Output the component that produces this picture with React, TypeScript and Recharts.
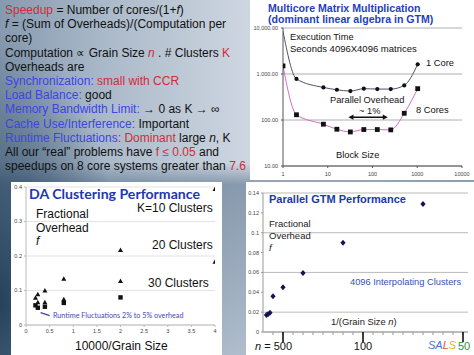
import React from 'react';
import {
  LineChart, Line, XAxis, YAxis, CartesianGrid, ReferenceLine,
  ScatterChart, Scatter,
} from 'recharts';

// ---------- Multicore Matrix Multiplication (top right) ----------
const blockSizes = [1, 2, 8, 16, 32, 64, 128, 256, 512, 1024];
const oneCoreSeconds = [8500, 780, 510, 455, 425, 480, 470, 470, 565, 1620];
const eightCoreSeconds = [1500, 130, 81, 63, 55, 62, 62, 61, 140, 480];
const blockSizeTicks = [1, 10, 100, 1000, 10000];
const secondsTicks = [10, 100, 1000, 10000];
const secondsTickLabels = ['10.00', '100.00', '1,000.00', '10,000.00'];
const overheadArrowBlocks = [29, 220];
const overheadArrowSeconds = 115;

// ---------- DA Clustering Performance (bottom left) ----------
const daK10Grain = [0.2, 0.25, 0.4, 0.8, 2, 4];
const daK10Overhead = [0.079, 0.089, 0.1, 0.134, 0.217, 0.394];
const daK20Grain = [0.25, 0.4, 0.8, 2, 4];
const daK20Overhead = [0.066, 0.066, 0.074, 0.127, 0.183];
const daK30Grain = [0.2, 0.25, 0.4, 0.8, 2];
const daK30Overhead = [0.057, 0.05, 0.053, 0.064, 0.08];
const daXTicks = [0, 0.5, 1, 1.5, 2, 2.5, 3, 3.5, 4];
const daYTicks = [0, 0.1, 0.2, 0.3, 0.4];
const daPointerGrain = [0.31, 0.5];
const daPointerOverhead = [0.036, 0.027];

// ---------- Parallel GTM Performance (bottom right) ----------
const gtmInverseGrain = [0.00035, 0.0005, 0.0007, 0.001, 0.002, 0.004, 0.008, 0.016];
const gtmOverhead = [0.017, 0.018, 0.0195, 0.036, 0.045, 0.0595, 0.09, 0.129];
const gtmYTicks = [0, 0.02, 0.04, 0.06, 0.08, 0.1, 0.12, 0.14];
const gtmMinorTicks = [0.001, 0.002, 0.003, 0.004, 0.005, 0.006, 0.007, 0.008, 0.009, 0.01,
  0.011, 0.012, 0.013, 0.014, 0.015, 0.016, 0.017, 0.018, 0.019, 0.02];
const gtmMajorTicks = [0.002, 0.01, 0.02];
const gtmMajorLabels = ['n = 500', '100', '50'];

const SANS = '"Liberation Sans", Arial, sans-serif';

const matrixData = blockSizes.map((b, i) => ({ block: b, one: oneCoreSeconds[i], eight: eightCoreSeconds[i] }));
const k10 = daK10Grain.map((x, i) => ({ x, y: daK10Overhead[i] }));
const k20 = daK20Grain.map((x, i) => ({ x, y: daK20Overhead[i] }));
const k30 = daK30Grain.map((x, i) => ({ x, y: daK30Overhead[i] }));
const gtm = gtmInverseGrain.map((x, i) => ({ x, y: gtmOverhead[i] }));

type TP = {
  x: number; y: number; size: number; color?: string; bold?: boolean; italic?: boolean;
  family?: string; children: React.ReactNode;
};
const T = ({ x, y, size, color = '#111', bold, italic, family = SANS, children }: TP) => (
  <div style={{
    position: 'absolute', left: x, top: y - size * 0.5, fontSize: size, lineHeight: 1,
    color, fontWeight: bold ? 700 : 400, fontStyle: italic ? 'italic' : 'normal',
    fontFamily: family, whiteSpace: 'nowrap',
  }}>{children}</div>
);

const RED = '#d42a3a';
const BLUE = '#3d45e0';

const tickStyle = { fontSize: 5.5, fill: '#444', fontFamily: SANS };

const OneCoreDot = (p: any) => {
  if (p.index === 0) return <g key={p.key} />;
  return <circle key={p.key} cx={p.cx} cy={p.cy} r={2.1} fill="#111" />;
};
const SquareDot = (p: any) => (
  <rect key={p.key} x={p.cx - 2.4} y={p.cy - 2.4} width={4.8} height={4.8} fill="#111" />
);
const Triangle = (p: any) => (
  <polygon points={`${p.cx},${p.cy - 2.6} ${p.cx - 2.5},${p.cy + 1.9} ${p.cx + 2.5},${p.cy + 1.9}`} fill="#111" />
);
const SquareMark = (p: any) => (
  <rect x={p.cx - 2.2} y={p.cy - 2.2} width={4.4} height={4.4} fill="#111" />
);
const Diamond = (p: any) => (
  <polygon points={`${p.cx},${p.cy - 3} ${p.cx + 2.6},${p.cy} ${p.cx},${p.cy + 3} ${p.cx - 2.6},${p.cy}`} fill="#14144e" />
);

const ArrowShape = (p: any) => {
  const { x1, y1, x2, y2 } = p;
  return (
    <g>
      <line x1={x1 + 3} y1={y1} x2={x2 - 3} y2={y2} stroke="#111" strokeWidth={1.6} />
      <polygon points={`${x1},${y1} ${x1 + 5},${y1 - 2.6} ${x1 + 5},${y1 + 2.6}`} fill="#111" />
      <polygon points={`${x2},${y2} ${x2 - 5},${y2 - 2.6} ${x2 - 5},${y2 + 2.6}`} fill="#111" />
    </g>
  );
};

const GtmTick = (p: any) => {
  const { x, y, payload } = p;
  const idx = gtmMajorTicks.findIndex((t) => Math.abs(t - payload.value) < 1e-9);
  if (idx < 0) return <g />;
  const label = gtmMajorLabels[idx];
  const parts = label.split(' = ');
  return (
    <g>
      <line x1={x} x2={x} y1={y - 3} y2={y + 7} stroke="#111" strokeWidth={1.6} />
      {parts.length === 2 ? (
        <text x={x + 9} y={y + 15} textAnchor="end" fontSize={11} fontFamily={SANS} fill="#111">
          <tspan fontStyle="italic">{parts[0]}</tspan>{' = ' + parts[1]}
        </text>
      ) : (
        <text x={idx === 2 ? x + 1 : x} y={y + 15} textAnchor="middle" fontSize={11} fontFamily={SANS}
          fill={idx === 2 ? '#2f8f3a' : '#111'}>{label}</text>
      )}
    </g>
  );
};

const lines: React.ReactNode[] = [
  <><span style={{ color: RED }}>Speedup</span> = Number of cores/(1+<i>f</i>)</>,
  <><i>f</i> = (Sum of Overheads)/(Computation per</>,
  <>core)</>,
  <>Computation ∝ Grain Size <i style={{ color: RED }}>n</i> . # Clusters <span style={{ color: RED }}>K</span></>,
  <>Overheads are</>,
  <><span style={{ color: BLUE }}>Synchronization:</span> <span style={{ color: RED }}>small with CCR</span></>,
  <><span style={{ color: BLUE }}>Load Balance:</span> good</>,
  <><span style={{ color: BLUE }}>Memory Bandwidth Limit:</span> → 0 as K → ∞</>,
  <><span style={{ color: BLUE }}>Cache Use/Interference:</span> Important</>,
  <><span style={{ color: BLUE }}>Runtime Fluctuations:</span> <span style={{ color: RED }}>Dominant</span> large <i>n</i>, K</>,
  <>All our “real” problems have <span style={{ color: RED }}>f ≤ 0.05</span> and</>,
  <>speedups on 8 core systems greater than <span style={{ color: RED }}>7.6</span></>,
];

export default function App() {
  return (
    <div style={{
      position: 'absolute', left: 0, top: 0, width: 474, height: 355, overflow: 'hidden',
      fontFamily: SANS,
      background: [
        'radial-gradient(ellipse 26% 75% at 0% 85%, rgba(28,58,84,0.9), rgba(28,58,84,0) 100%)',
        'linear-gradient(to bottom, rgba(80,105,132,0) 46%, rgba(80,105,132,0.55) 52%, rgba(110,135,160,0.3) 100%)',
        'linear-gradient(90deg, #8599b0 0%, #aab9c9 22%, #cbd4df 50%, #d5dce5 68%, #bccad7 100%)',
      ].join(','),
    }}>
      {/* left text */}
      <div style={{ position: 'absolute', left: 5, top: 3, fontSize: 12, lineHeight: '14.2px', color: '#111' }}>
        {lines.map((l, i) => <div key={i} style={{ whiteSpace: 'nowrap' }}>{l}</div>)}
      </div>

      {/* top-right panel */}
      <div style={{ position: 'absolute', left: 250, top: 0, width: 224, height: 180, background: '#fff' }} />
      <T x={268} y={8} size={10.6} bold color="#1f3fc0">Multicore Matrix Multiplication</T>
      <T x={268} y={19.5} size={10.6} bold color="#1f3fc0">(dominant linear algebra in GTM)</T>
      <div style={{ position: 'absolute', left: 250, top: 0 }}>
        <LineChart width={224} height={180} data={matrixData} margin={{ top: 28, right: 12, left: 3, bottom: 0 }}>
          <CartesianGrid vertical={false} stroke="#9a9a9a" strokeWidth={0.8} />
          <XAxis type="number" dataKey="block" scale="log" domain={[1, 10000]} ticks={blockSizeTicks}
            height={14} tickSize={2} tickMargin={4} tick={tickStyle} stroke="#555" allowDataOverflow />
          <YAxis type="number" scale="log" domain={[10, 10000]} ticks={secondsTicks} width={30}
            tickFormatter={(v: number) => secondsTickLabels[secondsTicks.indexOf(v)]}
            tickSize={2} tickMargin={3} tick={tickStyle} stroke="#555" allowDataOverflow />
          <Line type="monotone" dataKey="one" stroke="#55506a" strokeWidth={1} dot={OneCoreDot} isAnimationActive={false} />
          <Line type="monotone" dataKey="eight" stroke="#cf6fc6" strokeWidth={1} dot={SquareDot} isAnimationActive={false} />
          <ReferenceLine segment={[{ x: overheadArrowBlocks[0], y: overheadArrowSeconds }, { x: overheadArrowBlocks[1], y: overheadArrowSeconds }]}
            shape={ArrowShape} ifOverflow="visible" />
        </LineChart>
      </div>
      <T x={290} y={38} size={9.3}>Execution Time</T>
      <T x={290} y={48.5} size={9.5}>Seconds 4096X4096 matrices</T>
      <T x={426} y={64} size={9.3}>1 Core</T>
      <T x={330} y={101} size={9.3}>Parallel Overhead</T>
      <T x={359} y={112} size={9.3}>~ 1%</T>
      <T x={416} y={111} size={9.3}>8 Cores</T>
      <T x={336} y={156} size={9.3}>Block Size</T>

      {/* bottom-left panel */}
      <div style={{ position: 'absolute', left: 11, top: 182, width: 211, height: 173, background: '#fff' }} />
      <div style={{ position: 'absolute', left: 11, top: 182 }}>
        <ScatterChart width={211} height={173} margin={{ top: 5, right: 7, left: 0, bottom: 18 }}>
          <CartesianGrid vertical={false} stroke="#dcdcdc" strokeWidth={0.8} />
          <XAxis type="number" dataKey="x" domain={[0, 4]} ticks={daXTicks} height={12} tickSize={2} tickMargin={2}
            tick={tickStyle} stroke="#bbb" allowDataOverflow />
          <YAxis type="number" dataKey="y" domain={[0, 0.4]} ticks={daYTicks} width={15} tickSize={2} tickMargin={2}
            tick={tickStyle} stroke="#bbb" allowDataOverflow />
          <Scatter data={k10} shape={Triangle} isAnimationActive={false} />
          <Scatter data={k20} shape={Triangle} isAnimationActive={false} />
          <Scatter data={k30} shape={SquareMark} isAnimationActive={false} />
          <ReferenceLine segment={[{ x: daPointerGrain[0], y: daPointerOverhead[0] }, { x: daPointerGrain[1], y: daPointerOverhead[1] }]}
            stroke="#3f3f9f" strokeWidth={1.2} ifOverflow="visible" />
        </ScatterChart>
      </div>
      <T x={29} y={194} size={14.1} bold color="#2236b0" family="Lato, sans-serif">DA Clustering Performance</T>
      <T x={137} y={208} size={12}>K=10 Clusters</T>
      <T x={36} y={214} size={12}>Fractional</T>
      <T x={36} y={227.5} size={12}>Overhead</T>
      <T x={36} y={241} size={12} italic>f</T>
      <T x={152} y={244.5} size={12}>20 Clusters</T>
      <T x={148} y={283} size={12}>30 Clusters</T>
      <T x={53} y={316} size={7.2} color="#4848b8" family="Lato, sans-serif">Runtime Fluctuations 2% to 5% overhead</T>
      <T x={75} y={345.5} size={12}>10000/Grain Size</T>

      {/* bottom-right panel */}
      <div style={{ position: 'absolute', left: 246, top: 182, width: 228, height: 173, background: '#fff' }} />
      <div style={{ position: 'absolute', left: 246, top: 182 }}>
        <ScatterChart width={228} height={173} margin={{ top: 11, right: 6, left: 0, bottom: 13 }}>
          <CartesianGrid vertical={false} stroke="#a8a8a8" strokeWidth={0.8} />
          <XAxis type="number" dataKey="x" domain={[0, 0.0205]} ticks={gtmMinorTicks} height={10} tickSize={3}
            tickMargin={0} tick={GtmTick} stroke="#999" allowDataOverflow interval={0} />
          <YAxis type="number" dataKey="y" domain={[0, 0.14]} ticks={gtmYTicks} width={17} tickSize={2} tickMargin={2}
            tick={tickStyle} stroke="#999" allowDataOverflow />
          <Scatter data={gtm} shape={Diamond} isAnimationActive={false} />
        </ScatterChart>
      </div>
      <T x={269} y={199} size={11} bold color="#1a3aa8">Parallel GTM Performance</T>
      <T x={269} y={224} size={9.5} color="#222">Fractional</T>
      <T x={269} y={236} size={9.5} color="#222">Overhead</T>
      <T x={269} y={247.5} size={9.5} color="#222" italic>f</T>
      <T x={350} y={283} size={9.3} color="#3450b8">4096 Interpolating Clusters</T>
      <T x={331} y={321.5} size={9.4} color="#222">1/(Grain Size <i>n</i>)</T>
      <div style={{
        position: 'absolute', left: 428, top: 340, fontSize: 11, lineHeight: 1, fontStyle: 'italic',
        fontFamily: SANS, whiteSpace: 'nowrap',
      }}>
        <span style={{ color: '#4a74d8' }}>S</span>
        <span style={{ color: '#4a74d8' }}>A</span>
        <span style={{ color: '#e0504a' }}>L</span>
        <span style={{ color: '#e8b020' }}>S</span>
      </div>
    </div>
  );
}
